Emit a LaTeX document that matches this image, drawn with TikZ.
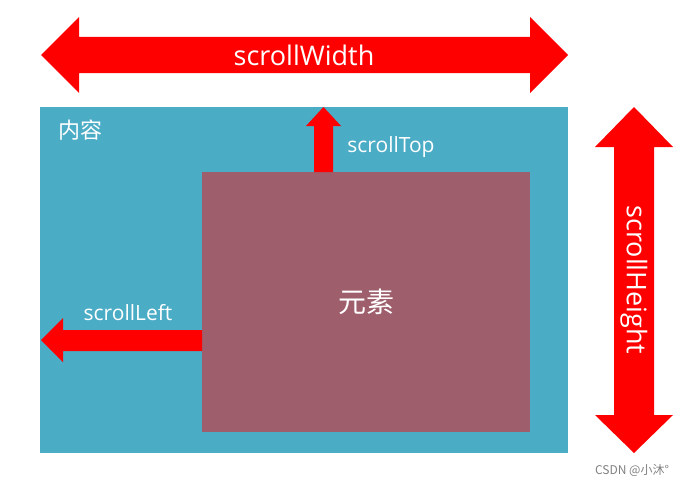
\documentclass[tikz,border=0pt]{standalone}
\usepackage{fontspec}
\setmainfont{Open Sans}
\newfontfamily\cjk{Noto Sans CJK SC}
\usetikzlibrary{positioning,calc}
\definecolor{boxblue}{HTML}{4BACC6}
\definecolor{elempink}{HTML}{9E5E6C}
\definecolor{arrowred}{HTML}{FF0000}

\begin{document}
\begin{tikzpicture}[x=1pt,y=-1pt,
   area/.style={fill=#1,draw=none,inner sep=0pt,anchor=north west},
   blockarrow/.style={fill=arrowred,draw=none},
   txt/.style={text=white,inner sep=0pt,font=\fontsize{#1}{#1}\selectfont}]
   \useasboundingbox (0,0) rectangle (698,487);

   % the two boxes
   \node[area=boxblue,minimum width=528,minimum height=346] (content) at (40,107) {};
   \node[area=elempink,minimum width=328,minimum height=260] (elem) at (202,172) {};

   % scrollWidth
   \fill[blockarrow] (41,55) -- (79,17) -- (79,37) -- (530,37) -- (530,17)
      -- (568,55) -- (530,93) -- (530,73) -- (79,73) -- (79,93) -- cycle;
   % scrollHeight
   \fill[blockarrow] (634,107) -- (673,147) -- (654,147) -- (654,415) -- (673,415)
      -- (634,453) -- (595,415) -- (614,415) -- (614,147) -- (595,147) -- cycle;
   % scrollTop
   \fill[blockarrow] (314,172) -- (314,126) -- (306,126) -- (323.5,107)
      -- (341,126) -- (333,126) -- (333,172) -- cycle;
   % scrollLeft
   \fill[blockarrow] (202,330) -- (63,330) -- (63,318) -- (41,340)
      -- (63,362) -- (63,351) -- (202,351) -- cycle;

   \node[txt=27] (wlabel) at (304,55) {scrollWidth};
   \node[txt=27,rotate=-90] (hlabel) at (634,280) {scrollHeight};
   \node[txt=21] (tlabel) at (391,147) {scrollTop};
   \node[txt=21] (llabel) at (128,313) {scrollLeft};
   \node[txt=22,font=\cjk\fontsize{22}{22}\selectfont] (clabel) at (80,130) {内容};
   \node[txt=28,font=\cjk\fontsize{28}{28}\selectfont] (elabel) at (366,302) {元素};
   \node[text=gray,inner sep=0pt,font=\cjk\fontsize{12}{12}\selectfont] (mark) at (632,471) {CSDN @小沐°};
\end{tikzpicture}
\end{document}
